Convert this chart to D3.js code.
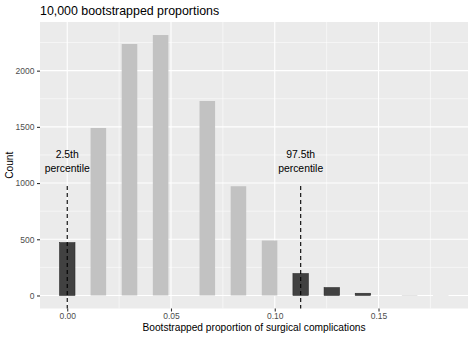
<!DOCTYPE html>
<html><head><meta charset="utf-8">
<script src="https://cdn.jsdelivr.net/npm/d3@7"></script>
<style>body{margin:0;background:#fff}svg{display:block}text{font-family:"Liberation Sans",Arial,sans-serif}</style>
</head><body><svg id="c" width="474" height="338"></svg>
<script>
const binCenters = [0, 0.015, 0.03, 0.045, 0.0675, 0.0825, 0.0975, 0.1125, 0.1275, 0.1425, 0.165, 0.18];
const counts     = [471, 1490, 2237, 2317, 1730, 972, 489, 196, 71, 20, 4, 3];
const inTail     = [true, false, false, false, false, false, false, true, true, true, false, false];
const binWidth = 0.0075;
const xTicks = [0, 0.05, 0.10, 0.15];
const xMinor = [0.025, 0.075, 0.125, 0.175];
const yTicks = [0, 500, 1000, 1500, 2000];
const yMinor = [250, 750, 1250, 1750, 2250];
const cutoffs = [0, 0.1125];
const cutoffTop = 975;
const labels = [["2.5th","percentile"],["97.5th","percentile"]];
const labelY = 1250;

const svg = d3.select("#c");
const L=40, R=468, T=22, B=308.5;
const xmin = binCenters[0]-binWidth/2, xmax = binCenters[binCenters.length-1]+binWidth/2;
const xr = xmax-xmin;
const x = d3.scaleLinear().domain([xmin-0.05*xr, xmax+0.05*xr]).range([L,R]);
const ymaxV = d3.max(counts);
const y = d3.scaleLinear().domain([-0.05*ymaxV, ymaxV*1.05]).range([B,T]);

svg.append("rect").attr("x",L).attr("y",T).attr("width",R-L).attr("height",B-T).attr("fill","#ebebeb");
const g = svg.append("g");
g.selectAll(".ymin").data(yMinor).join("line").attr("x1",L).attr("x2",R).attr("y1",d=>y(d)).attr("y2",d=>y(d)).attr("stroke","#fff").attr("stroke-width",0.55);
g.selectAll(".xmin").data(xMinor).join("line").attr("y1",T).attr("y2",B).attr("x1",d=>x(d)).attr("x2",d=>x(d)).attr("stroke","#fff").attr("stroke-width",0.55);
g.selectAll(".ymaj").data(yTicks).join("line").attr("x1",L).attr("x2",R).attr("y1",d=>y(d)).attr("y2",d=>y(d)).attr("stroke","#fff").attr("stroke-width",1.1);
g.selectAll(".xmaj").data(xTicks).join("line").attr("y1",T).attr("y2",B).attr("x1",d=>x(d)).attr("x2",d=>x(d)).attr("stroke","#fff").attr("stroke-width",1.1);

const bars = binCenters.map((c,i)=>({c, n:counts[i], tail:inTail[i]}));
svg.selectAll(".bar").data(bars).join("rect")
  .attr("x",d=>x(d.c-binWidth/2)).attr("width",d=>x(d.c+binWidth/2)-x(d.c-binWidth/2))
  .attr("y",d=>y(d.n)).attr("height",d=>y(0)-y(d.n))
  .attr("fill",d=>d.tail?"#414141":"#c2c2c2")
  .attr("stroke",d=>d.tail?"#222":"none").attr("stroke-width",0.5);

svg.selectAll(".cut").data(cutoffs).join("line")
  .attr("x1",d=>x(d)).attr("x2",d=>x(d)).attr("y1",y(cutoffTop)).attr("y2",B)
  .attr("stroke","#000").attr("stroke-width",1.1).attr("stroke-dasharray","4,3");

cutoffs.forEach((c,i)=>{
  const t = svg.append("text").attr("x",x(c)).attr("y",y(labelY)+3.5).attr("text-anchor","middle").attr("font-size",10.4).attr("fill","#000");
  t.append("tspan").attr("x",x(c)).attr("dy",0).text(labels[i][0]);
  t.append("tspan").attr("x",x(c)).attr("dy",13.5).text(labels[i][1]);
});

// axes
const xa = svg.append("g").attr("transform",`translate(0,${B})`)
  .call(d3.axisBottom(x).tickValues(xTicks).tickFormat(d3.format(".2f")).tickSize(3).tickPadding(1.2));
const ya = svg.append("g").attr("transform",`translate(${L},0)`)
  .call(d3.axisLeft(y).tickValues(yTicks).tickFormat(d3.format("d")).tickSize(3).tickPadding(2.5));
[xa,ya].forEach(a=>{
  a.select(".domain").remove();
  a.selectAll(".tick line").attr("stroke","#333").attr("stroke-width",1.1);
  a.selectAll(".tick text").attr("fill","#4d4d4d").attr("font-size",8.5).style("font-family","Liberation Sans, Arial, sans-serif");
});

svg.append("text").attr("x",L).attr("y",15).attr("font-size",12.4).attr("fill","#000").text("10,000 bootstrapped proportions");
svg.append("text").attr("x",(L+R)/2).attr("y",331).attr("text-anchor","middle").attr("font-size",10.2).attr("fill","#000").text("Bootstrapped proportion of surgical complications");
svg.append("text").attr("transform",`translate(13,${(T+B)/2}) rotate(-90)`).attr("text-anchor","middle").attr("font-size",10.2).attr("fill","#000").text("Count");
</script></body></html>
